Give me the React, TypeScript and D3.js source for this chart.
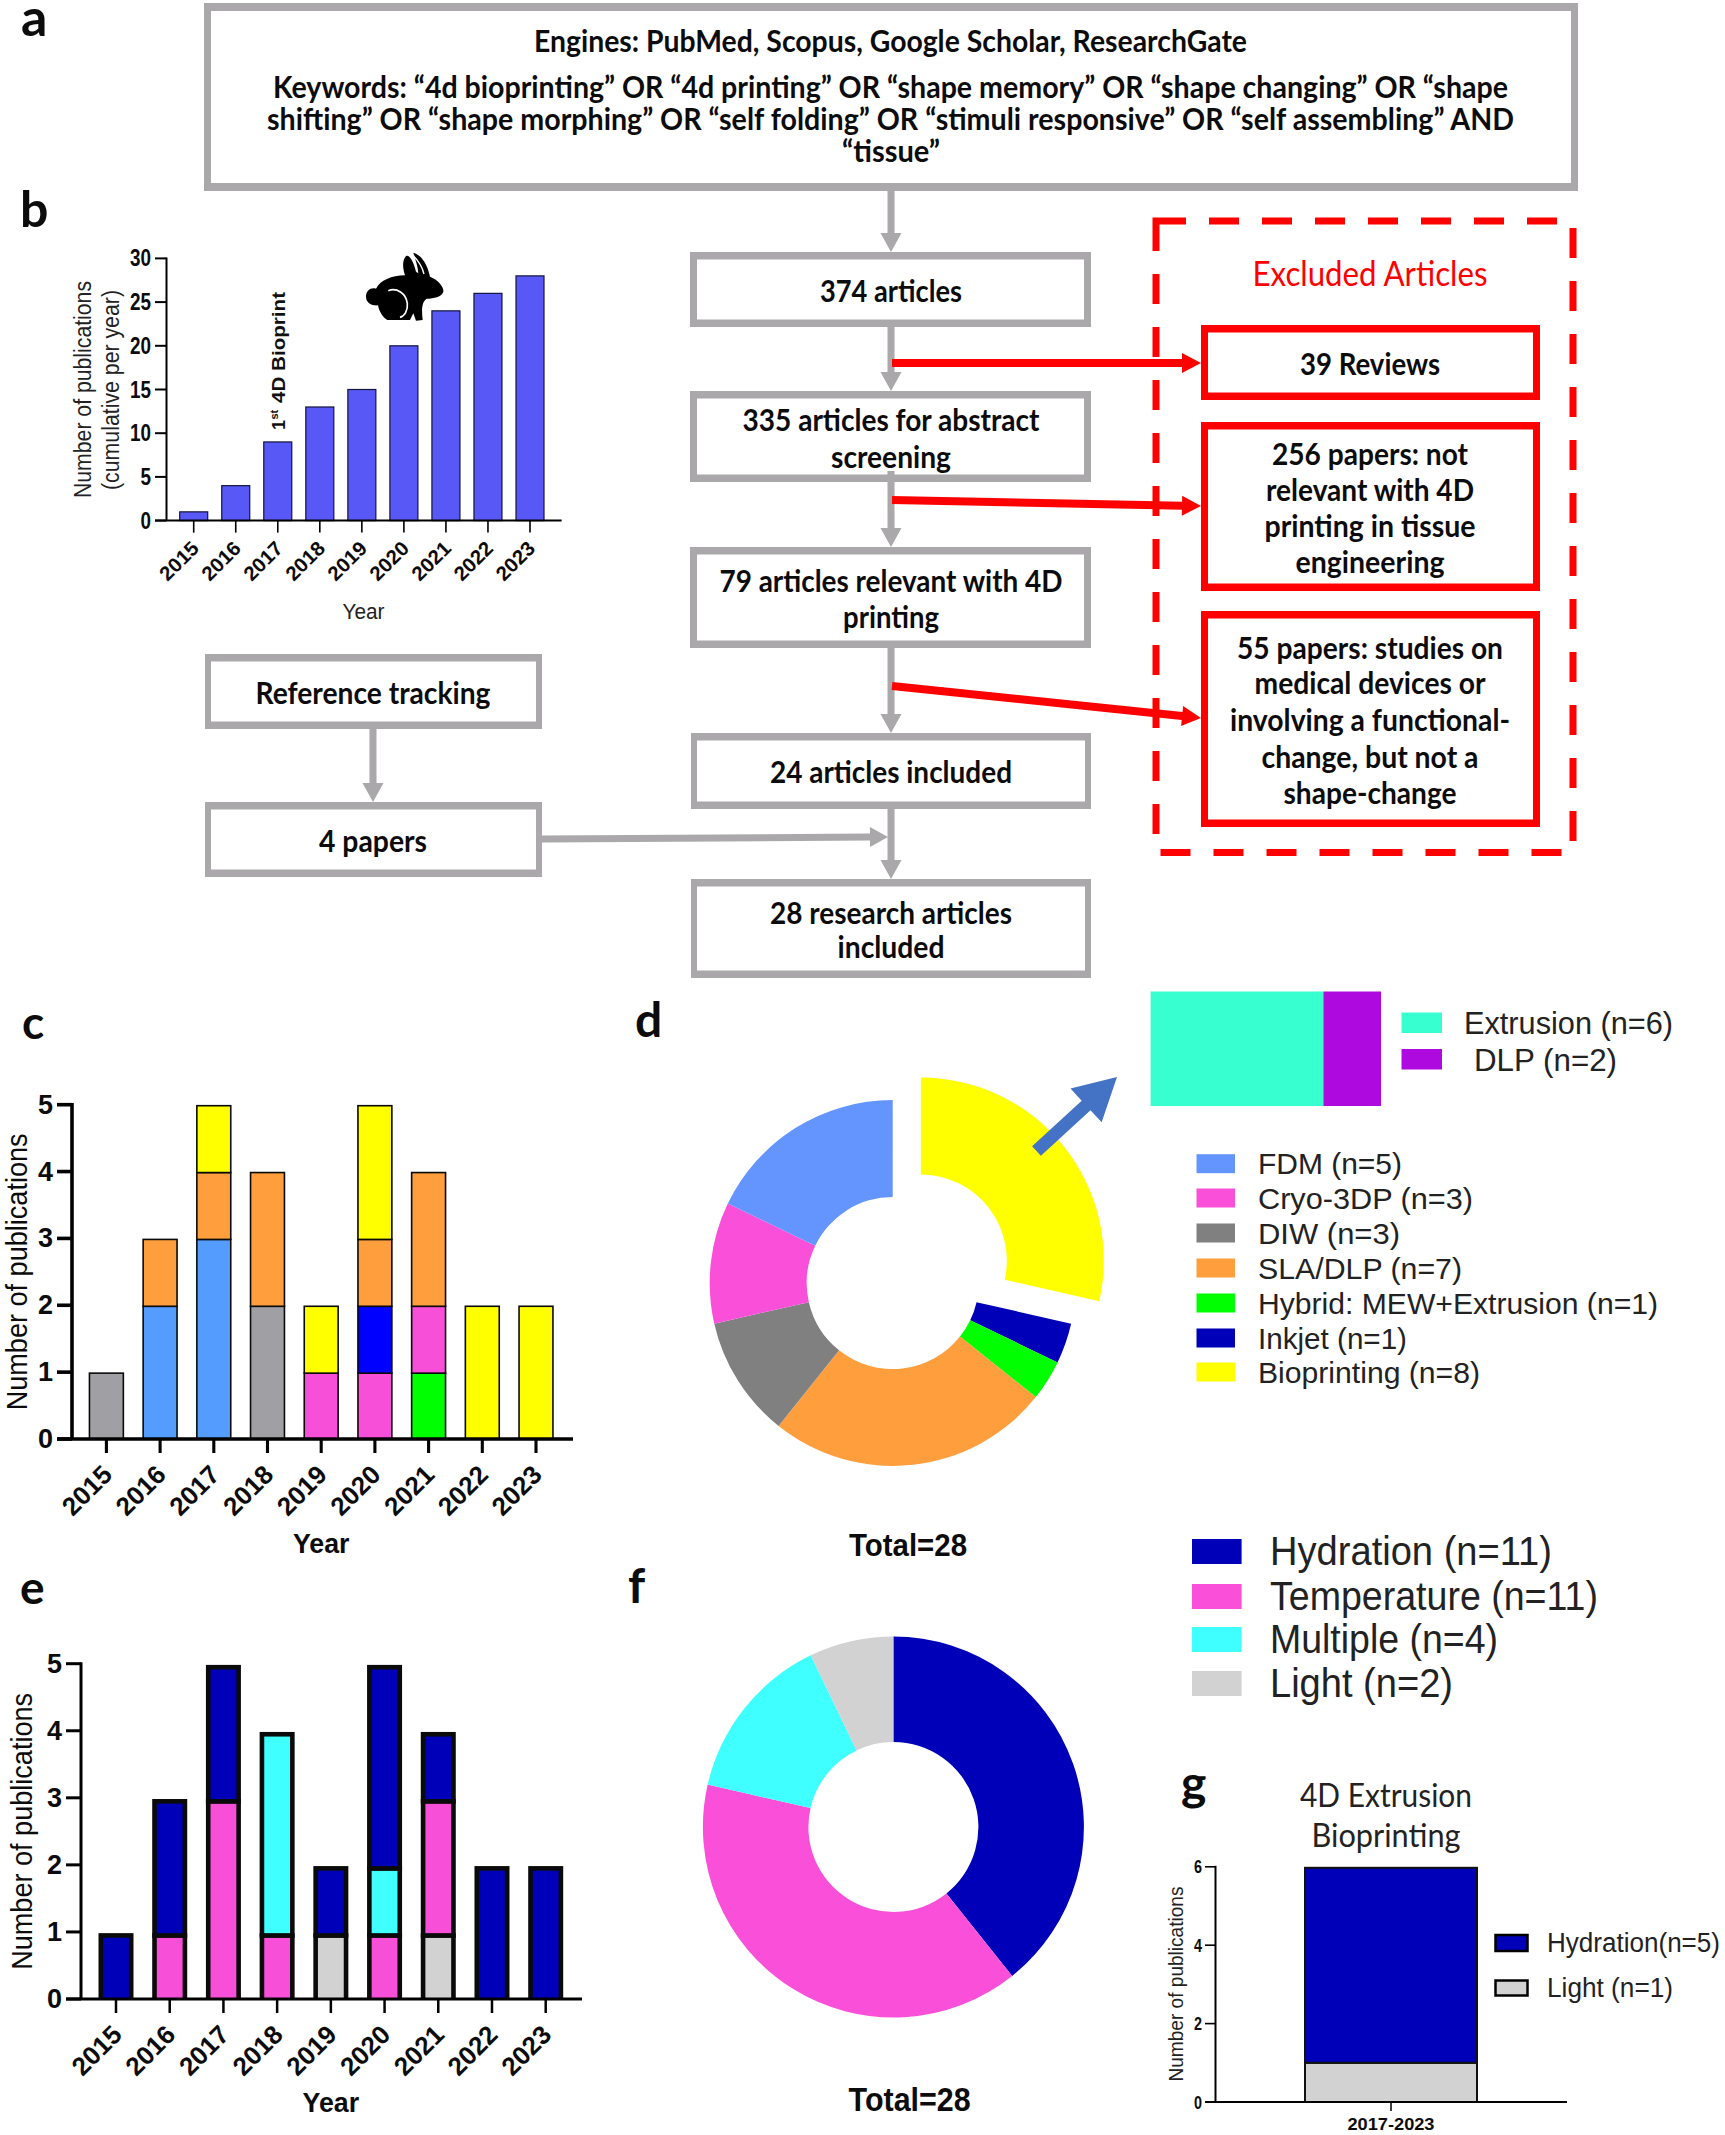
import React from "react";
import * as d3 from "d3";

// ---------- data ----------
const years = ["2015", "2016", "2017", "2018", "2019", "2020", "2021", "2022", "2023"];
const cumulative = [1, 4, 9, 13, 15, 20, 24, 26, 28];
const bTicks = [0, 5, 10, 15, 20, 25, 30];

const methodKeys = ["Hybrid", "FDM", "DIW", "Cryo", "Inkjet", "SLA", "Bio"];
const methodHybrid = [0, 0, 0, 0, 0, 0, 1, 0, 0];
const methodFDM = [0, 2, 3, 0, 0, 0, 0, 0, 0];
const methodDIW = [1, 0, 0, 2, 0, 0, 0, 0, 0];
const methodCryo = [0, 0, 0, 0, 1, 1, 1, 0, 0];
const methodInkjet = [0, 0, 0, 0, 0, 1, 0, 0, 0];
const methodSLA = [0, 1, 1, 2, 0, 1, 2, 0, 0];
const methodBio = [0, 0, 1, 0, 1, 2, 0, 2, 2];

const stimKeys = ["Light", "Temp", "Multiple", "Hydration"];
const stimLight = [0, 0, 0, 0, 1, 0, 1, 0, 0];
const stimTemp = [0, 1, 3, 1, 0, 1, 2, 0, 0];
const stimMultiple = [0, 0, 0, 3, 0, 1, 0, 0, 0];
const stimHydration = [1, 2, 2, 0, 1, 3, 1, 2, 2];

const donutDNames = ["Bioprinting", "Inkjet", "Hybrid: MEW+Extrusion", "SLA/DLP", "DIW", "Cryo-3DP", "FDM"];
const donutDValues = [8, 1, 1, 7, 3, 3, 5];
const donutDColors = ["#ffff00", "#0000b8", "#00ff00", "#ff9e3c", "#808080", "#f94fd9", "#6495ff"];
const legendDOrder = ["FDM", "Cryo-3DP", "DIW", "SLA/DLP", "Hybrid: MEW+Extrusion", "Inkjet", "Bioprinting"];
const legendDWidths = [144, 215, 142, 204, 400, 149, 222];

const subNames = ["Extrusion", "DLP"];
const subValues = [6, 2];
const subColors = ["#37ffd0", "#ae0ae0"];

const donutFNames = ["Hydration", "Temperature", "Multiple", "Light"];
const donutFValues = [11, 11, 4, 2];
const donutFColors = ["#0000b8", "#f94fd9", "#3fffff", "#d2d2d2"];
const legendFWidths = [282, 328, 228, 183];

const gHydration = 5;
const gLight = 1;
const gTicks = [0, 2, 4, 6];

const C_METHOD: Record<string, string> = {
  Hybrid: "#00ff00", FDM: "#559cff", DIW: "#a0a0a4", Cryo: "#f84fd8", Inkjet: "#0000ff", SLA: "#ff9e3c", Bio: "#ffff00",
};
const C_STIM: Record<string, string> = { Light: "#d2d2d2", Temp: "#f84fd8", Multiple: "#3fffff", Hydration: "#0000b8" };

const LATO = "Lato, Carlito, sans-serif";
const ARIAL = "'Liberation Sans', Arial, sans-serif";
const GRAY = "#aaa8aa";
const RED = "#ff0000";

// ---------- helpers ----------
function T(p: any) {
  const { x, y, w, fs, bold, family = LATO, fill = "#0c0c0c", anchor = "middle", rotate, base = "central", children } = p;
  return (
    <text
      x={rotate == null ? x : 0}
      y={rotate == null ? y : 0}
      transform={rotate == null ? undefined : `translate(${x},${y}) rotate(${rotate})`}
      fontFamily={family}
      fontSize={fs}
      fontWeight={bold ? 700 : 400}
      fill={fill}
      textAnchor={anchor}
      dominantBaseline={base}
      textLength={w}
      lengthAdjust={w ? "spacingAndGlyphs" : undefined}
    >
      {children}
    </text>
  );
}

function Box({ x0, y0, x1, y1, color = GRAY, sx = 7, sy = 7.5 }: any) {
  return (
    <g>
      <rect x={x0} y={y0} width={x1 - x0} height={y1 - y0} fill={color} />
      <rect x={x0 + sx} y={y0 + sy} width={x1 - x0 - 2 * sx} height={y1 - y0 - 2 * sy} fill="#fff" />
    </g>
  );
}

function arrowPoints(x1: number, y1: number, x2: number, y2: number, sw: number, hw: number, hl: number) {
  const a = Math.atan2(y2 - y1, x2 - x1);
  const ux = Math.cos(a), uy = Math.sin(a), nx = -uy, ny = ux;
  const bx = x2 - ux * hl, by = y2 - uy * hl;
  const pts = [
    [x1 + (nx * sw) / 2, y1 + (ny * sw) / 2],
    [bx + (nx * sw) / 2, by + (ny * sw) / 2],
    [bx + (nx * hw) / 2, by + (ny * hw) / 2],
    [x2, y2],
    [bx - (nx * hw) / 2, by - (ny * hw) / 2],
    [bx - (nx * sw) / 2, by - (ny * sw) / 2],
    [x1 - (nx * sw) / 2, y1 - (ny * sw) / 2],
  ];
  return pts.map((q) => q.join(",")).join(" ");
}

function Arrow({ from, to, color = GRAY, sw = 7, hw = 21, hl = 19 }: any) {
  return <polygon points={arrowPoints(from[0], from[1], to[0], to[1], sw, hw, hl)} fill={color} />;
}

function StackedChart({ id, keys, rows, colors, frame, barW, sw, barInset, axisW, tickFs, yearFs, titleX, titleW, yearY, yearW, tickRight }: any) {
  const x = d3.scalePoint<string>().domain(years).range([frame.cx0, frame.cx1]);
  const y = d3.scaleLinear().domain([0, 5]).range([frame.y0, frame.y5]);
  const table = years.map((yr, i) => {
    const o: any = { yr };
    keys.forEach((k: string, j: number) => (o[k] = rows[j][i]));
    return o;
  });
  const series = d3.stack().keys(keys)(table);
  return (
    <g>
      <clipPath id={id}>
        <rect x={0} y={frame.y5 - 10} width={700} height={frame.y0 - frame.y5 + 10} />
      </clipPath>
      <g clipPath={`url(#${id})`}>
        {series.map((s: any) =>
          s.map((d: any, i: number) =>
            d[1] > d[0] ? (
              <rect
                key={s.key + i}
                x={(x(years[i]) as number) - barW / 2 + sw / 2}
                y={y(d[1]) + barInset}
                width={barW - sw}
                height={y(d[0]) - y(d[1]) + (d[0] === 0 ? sw + barInset : 0)}
                fill={colors[s.key]}
                stroke="#0a0a0a"
                strokeWidth={sw}
              />
            ) : null
          )
        )}
      </g>
      <line x1={frame.axis} x2={frame.axis} y1={y(5) - axisW / 2} y2={y(0)} stroke="#000" strokeWidth={axisW} />
      <line x1={frame.axis - 15} x2={frame.xEnd} y1={y(0)} y2={y(0)} stroke="#000" strokeWidth={axisW} />
      {y.ticks(5).map((t) => (
        <g key={t}>
          <line x1={frame.axis - 15} x2={frame.axis} y1={y(t)} y2={y(t)} stroke="#000" strokeWidth={axisW} />
          <T x={tickRight} y={y(t)} fs={tickFs} bold family={ARIAL} anchor="end">{t}</T>
        </g>
      ))}
      {years.map((yr) => (
        <g key={yr}>
          <line x1={x(yr)} x2={x(yr)} y1={y(0)} y2={y(0) + 14} stroke="#000" strokeWidth={axisW - 0.5} />
          <T x={(x(yr) as number) + 1} y={y(0) + 31} fs={yearFs} bold family={ARIAL} anchor="end" rotate={-45}>{yr}</T>
        </g>
      ))}
      <T x={titleX} y={(frame.y0 + frame.y5) / 2 + (frame.titleDy || 0)} w={titleW} fs={29} family={ARIAL} rotate={-90}>Number of publications</T>
      <T x={(x("2019") as number)} y={yearY} w={yearW} fs={27} bold family={ARIAL}>Year</T>
    </g>
  );
}

function Donut({ values, colors, cx, cy, r0, r1, explode }: any) {
  const pie = d3.pie<number>().sort(null).startAngle(0).endAngle(2 * Math.PI);
  const arc = d3.arc<any>().innerRadius(r0).outerRadius(r1);
  return (
    <g transform={`translate(${cx},${cy})`}>
      {pie(values).map((a: any, i: number) => {
        const mid = (a.startAngle + a.endAngle) / 2;
        const e = explode && explode[i] ? explode[i] : 0;
        return <path key={i} d={arc(a) as string} fill={colors[i]} transform={`translate(${Math.sin(mid) * e},${-Math.cos(mid) * e})`} />;
      })}
    </g>
  );
}

function ChartB() {
  const x = d3.scalePoint<string>().domain(years).range([193.7, 530]);
  const y = d3.scaleLinear().domain([0, 30]).range([520.6, 258.4]);
  const bw = 28;
  return (
    <g>
      {years.map((yr, i) => (
        <rect key={yr} x={(x(yr) as number) - bw / 2} y={y(cumulative[i])} width={bw} height={y(0) - y(cumulative[i])} fill="#5858f6" stroke="#14143c" strokeWidth={1.2} />
      ))}
      <line x1={166.5} x2={166.5} y1={y(30) - 1} y2={y(0)} stroke="#000" strokeWidth={2} />
      <line x1={155} x2={561.6} y1={y(0)} y2={y(0)} stroke="#000" strokeWidth={2} />
      {bTicks.map((t) => (
        <g key={t}>
          <line x1={155} x2={166.5} y1={y(t)} y2={y(t)} stroke="#000" strokeWidth={2} />
          <T x={151} y={y(t)} fs={23} bold family={ARIAL} anchor="end" w={String(t).length * 10.5}>{t}</T>
        </g>
      ))}
      {years.map((yr) => (
        <g key={yr}>
          <line x1={x(yr)} x2={x(yr)} y1={y(0)} y2={y(0) + 12} stroke="#000" strokeWidth={1.6} />
          <T x={(x(yr) as number) + 1.5} y={y(0) + 24} fs={20} bold family={ARIAL} anchor="end" rotate={-45} w={46}>{yr}</T>
        </g>
      ))}
      <T x={83} y={389.5} w={217} fs={23} family={ARIAL} rotate={-90} fill="#222">Number of publications</T>
      <T x={111} y={390} w={200} fs={23} family={ARIAL} rotate={-90} fill="#222">(cumulative per year)</T>
      <T x={363.5} y={611.5} w={42} fs={22} family={ARIAL} fill="#222">Year</T>
      <g transform="translate(279,430) rotate(-90)" fontFamily={ARIAL} fontWeight={700} fill="#111">
        <text x={0} y={0} fontSize={18} dominantBaseline="central">1</text>
        <text x={10.5} y={-5} fontSize={11} dominantBaseline="central">st</text>
        <text x={27} y={0} fontSize={18} dominantBaseline="central" textLength={111} lengthAdjust="spacingAndGlyphs">4D Bioprint</text>
      </g>
      {/* rabbit icon */}
      <g transform="translate(350,240) scale(0.3333)">
        <path
          fill="#000"
          d="M48 170 C48 152 62 142 78 146 C90 122 125 106 165 106 C158 85 156 62 168 48 C178 44 190 62 198 95 L205 100 C204 80 196 58 190 38 C212 44 232 70 240 110 C262 118 282 140 280 155 C276 170 250 176 230 176 C216 186 214 205 218 240 L198 242 L190 220 L180 240 L112 240 C98 232 88 216 84 196 C66 198 48 188 48 170 Z"
        />
        <path fill="none" stroke="#fff" strokeWidth={5} d="M115 152 C140 142 168 160 172 190 C174 212 164 228 150 232" />
        <path fill="none" stroke="#fff" strokeWidth={4} d="M188 45 C205 62 218 85 222 102" />
      </g>
    </g>
  );
}

function ChartG() {
  const y = d3.scaleLinear().domain([0, 6]).range([2102, 1866.8]);
  return (
    <g>
      <rect x={1305} y={y(gLight)} width={172} height={y(0) - y(gLight)} fill={C_STIM.Light} stroke="#111" strokeWidth={2} />
      <rect x={1305} y={y(gLight + gHydration) + 1} width={172} height={y(gLight) - y(gLight + gHydration) - 1} fill={C_STIM.Hydration} stroke="#111" strokeWidth={2} />
      <line x1={1215.5} x2={1215.5} y1={y(6) - 1} y2={y(0)} stroke="#000" strokeWidth={2} />
      <line x1={1205} x2={1567} y1={y(0)} y2={y(0)} stroke="#000" strokeWidth={2} />
      {gTicks.map((t) => (
        <g key={t}>
          <line x1={1205} x2={1215.5} y1={y(t)} y2={y(t)} stroke="#000" strokeWidth={1.6} />
          <T x={1202} y={y(t)} fs={19} bold family={ARIAL} anchor="end" w={8}>{t}</T>
        </g>
      ))}
      <line x1={1391} x2={1391} y1={y(0)} y2={y(0) + 9} stroke="#000" strokeWidth={1.5} />
      <T x={1391} y={2124} w={87} fs={17} bold family={ARIAL}>2017-2023</T>
      <T x={1175} y={1984} w={195} fs={21} family={ARIAL} rotate={-90} fill="#222">Number of publications</T>
      <T x={1386} y={1794} w={172} fs={33} fill="#222">4D Extrusion</T>
      <T x={1386} y={1834} w={149} fs={33} fill="#222">Bioprinting</T>
      <rect x={1495.5} y={1935} width={32} height={16} fill={C_STIM.Hydration} stroke="#000" strokeWidth={2.5} />
      <rect x={1495.5} y={1980.5} width={32} height={15} fill={C_STIM.Light} stroke="#000" strokeWidth={2.5} />
      <T x={1547} y={1943} w={173} fs={27} anchor="start" family={ARIAL} fill="#222">{`Hydration(n=${gHydration})`}</T>
      <T x={1547} y={1988} w={126} fs={27} anchor="start" family={ARIAL} fill="#222">{`Light (n=${gLight})`}</T>
    </g>
  );
}

function Sub() {
  const total = d3.sum(subValues);
  const x = d3.scaleLinear().domain([0, total]).range([1150.6, 1381]);
  let acc = 0;
  const ys = [1012.5, 1049];
  const labelX = [1464, 1474];
  const labelW = [209, 143];
  const labelY = [1023, 1060];
  return (
    <g>
      {subValues.map((v, i) => {
        const a = acc;
        acc += v;
        return <rect key={i} x={x(a)} y={991.5} width={x(a + v) - x(a)} height={114.5} fill={subColors[i]} />;
      })}
      {subNames.map((n, i) => (
        <g key={n}>
          <rect x={1401.5} y={ys[i]} width={40.5} height={20.5} fill={subColors[i]} />
          <T x={labelX[i]} y={labelY[i]} w={labelW[i]} fs={32} anchor="start" family={ARIAL} fill="#222">{`${n} (n=${subValues[i]})`}</T>
        </g>
      ))}
    </g>
  );
}

const flowBoxes = [
  [204, 3, 1578, 191],
  [690, 252, 1091, 327],
  [690, 391, 1091, 482],
  [690, 547, 1091, 648],
  [691, 733, 1091, 809],
  [691, 879, 1091, 978],
  [205, 654, 542, 729],
  [205, 802, 542, 877],
];
const redBoxes = [
  [1201, 325, 1540, 400],
  [1201, 422, 1540, 591],
  [1201, 611, 1540, 827],
];
// [text, centre x, centre y, width]
const flowText: [string, number, number, number][] = [
  ["Engines: PubMed, Scopus, Google Scholar, ResearchGate", 890.5, 41, 713],
  ["Keywords: “4d bioprinting” OR “4d printing” OR “shape memory” OR “shape changing” OR “shape", 890.5, 87, 1235],
  ["shifting” OR “shape morphing” OR “self folding” OR “stimuli responsive” OR “self assembling” AND", 890.5, 119, 1247],
  ["“tissue”", 891, 151, 98],
  ["374 articles", 891, 291, 142],
  ["335 articles for abstract", 891, 420, 297],
  ["screening", 891, 457, 120],
  ["79 articles relevant with 4D", 891, 581, 343],
  ["printing", 891, 617, 96],
  ["24 articles included", 891, 772, 242],
  ["28 research articles", 891, 913, 242],
  ["included", 891, 947, 107],
  ["Reference tracking", 373, 693, 235],
  ["4 papers", 373, 841, 108],
  ["39 Reviews", 1370, 364, 140],
  ["256 papers: not", 1370, 454, 196],
  ["relevant with 4D", 1370, 490, 208],
  ["printing in tissue", 1370, 526, 211],
  ["engineering", 1370, 562, 149],
  ["55 papers: studies on", 1370, 648, 266],
  ["medical devices or", 1370, 683, 231],
  ["involving a functional-", 1370, 720, 280],
  ["change, but not a", 1370, 757, 217],
  ["shape-change", 1370, 793, 173],
];
const panelLabels: [string, number, number, number][] = [
  ["a", 21, 36, 52],
  ["b", 20, 227, 50],
  ["c", 22, 1039, 46],
  ["d", 635, 1037, 48],
  ["e", 20, 1604, 46],
  ["f", 628, 1603, 48],
  ["g", 1181, 1800, 48],
];

export default function App() {
  const legendDValue = (n: string) => donutDValues[donutDNames.indexOf(n)];
  const legendDColor = (n: string) => donutDColors[donutDNames.indexOf(n)];
  const legendDY = [1163.7, 1198, 1233, 1268, 1303, 1338, 1372];
  const legendFY = [1551, 1596, 1639, 1683];
  return (
    <svg width={1725} height={2135} viewBox="0 0 1725 2135" style={{ position: "absolute", left: 0, top: 0, background: "#fff" }}>
      {flowBoxes.map((b, i) => (
        <Box key={i} x0={b[0]} y0={b[1]} x1={b[2]} y1={b[3]} sx={i >= 4 ? 6 : 7} sy={i === 0 ? 8 : 7.5} />
      ))}
      <Arrow from={[891, 190]} to={[891, 252]} />
      <Arrow from={[891, 327]} to={[891, 391]} />
      <Arrow from={[891, 471]} to={[891, 547]} />
      <Arrow from={[891, 648]} to={[891, 733]} />
      <Arrow from={[891, 809]} to={[891, 879]} />
      <Arrow from={[373, 729]} to={[373, 802]} />
      <Arrow from={[542, 839]} to={[888, 837]} hw={20} hl={18} />

      <path
        d="M1156 221 H1573 V852.5 H1156 Z"
        fill="none"
        stroke={RED}
        strokeWidth={7}
        strokeDasharray="30 23"
      />
      {redBoxes.map((b, i) => (
        <Box key={i} x0={b[0]} y0={b[1]} x1={b[2]} y1={b[3]} color={RED} />
      ))}
      <Arrow from={[892, 363]} to={[1201, 363]} color={RED} sw={8} hw={20} hl={19} />
      <Arrow from={[892, 500]} to={[1201, 506]} color={RED} sw={8} hw={20} hl={19} />
      <Arrow from={[892, 686]} to={[1201, 718]} color={RED} sw={8} hw={20} hl={19} />

      {flowText.map(([s, x, y, w]) => (
        <T key={s} x={x} y={y - 1.5} w={w} fs={30} bold>{s}</T>
      ))}
      <T x={1370} y={272} w={235} fs={34} fill={RED}>Excluded Articles</T>

      {panelLabels.map(([s, x, y, fs]) => (
        <T key={s} x={x} y={y} fs={fs} bold anchor="start" base="auto">{s}</T>
      ))}

      <ChartB />

      <StackedChart
        id="clipC"
        keys={methodKeys}
        rows={[methodHybrid, methodFDM, methodDIW, methodCryo, methodInkjet, methodSLA, methodBio]}
        colors={C_METHOD}
        frame={{ cx0: 106.4, cx1: 536, y0: 1439, y5: 1104.7, axis: 72, xEnd: 573 }}
        barW={35.5}
        sw={1.6}
        barInset={1}
        axisW={3.6}
        tickFs={27}
        yearFs={26}
        titleX={16.5}
        titleW={277}
        yearY={1544}
        yearW={56.5}
        tickRight={53}
      />
      <StackedChart
        id="clipE"
        keys={stimKeys}
        rows={[stimLight, stimTemp, stimMultiple, stimHydration]}
        colors={C_STIM}
        frame={{ cx0: 116, cx1: 545.7, y0: 1999, y5: 1663.7, axis: 81, xEnd: 582 }}
        barW={35}
        sw={4.6}
        barInset={3.5}
        axisW={3}
        tickFs={27}
        yearFs={26}
        titleX={22}
        titleW={277}
        yearY={2103}
        yearW={56.5}
        tickRight={62}
      />

      <Donut values={donutDValues} colors={donutDColors} cx={892.7} cy={1283} r0={86} r1={183} explode={[36]} />
      <Arrow from={[1036.5, 1151]} to={[1117, 1077]} color="#4472c4" sw={13} hw={46} hl={42} />
      <Sub />
      {legendDOrder.map((n, i) => (
        <g key={n}>
          <rect x={1196.5} y={legendDY[i] - 9.5} width={38.5} height={19} fill={legendDColor(n)} />
          <T x={1258} y={legendDY[i]} w={legendDWidths[i]} fs={30} anchor="start" family={ARIAL} fill="#222">{`${n} (n=${legendDValue(n)})`}</T>
        </g>
      ))}
      <T x={908} y={1545} w={118} fs={32} bold family={ARIAL}>Total=28</T>

      <Donut values={donutFValues} colors={donutFColors} cx={893.4} cy={1827} r0={85} r1={190.5} />
      {donutFNames.map((n, i) => (
        <g key={n}>
          <rect x={1192} y={legendFY[i] - 12} width={49.6} height={25} fill={donutFColors[i]} />
          <T x={1270} y={legendFY[i]} w={legendFWidths[i]} fs={40} anchor="start" family={ARIAL} fill="#222">{`${n} (n=${donutFValues[i]})`}</T>
        </g>
      ))}
      <T x={909.6} y={2099} w={122} fs={33} bold family={ARIAL}>Total=28</T>

      <ChartG />
    </svg>
  );
}
